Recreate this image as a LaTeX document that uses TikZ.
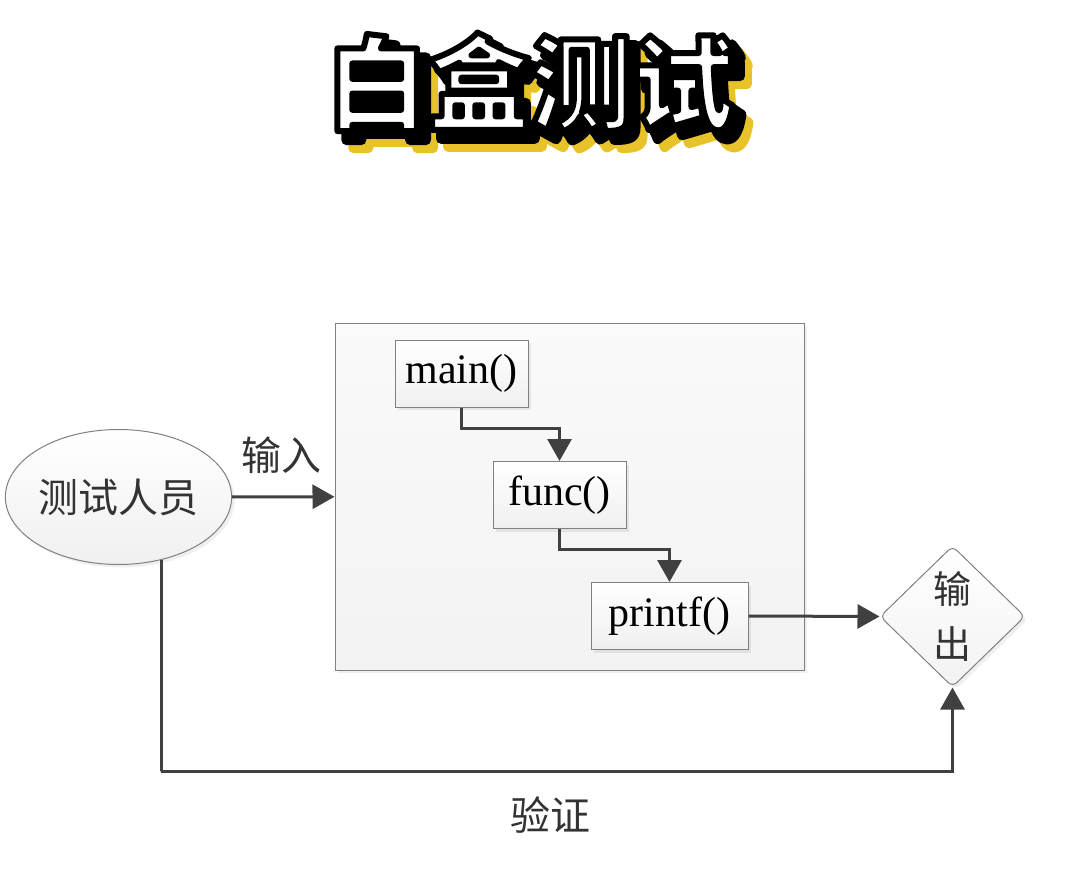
\documentclass[tikz,border=0pt]{standalone}
\usepackage{fontspec}
\setmainfont{Liberation Serif}
\newfontfamily\cjk{Noto Sans CJK SC}
\usetikzlibrary{shapes.geometric,arrows.meta,shadows,calc}
\definecolor{linec}{HTML}{404040}
\definecolor{borderc}{HTML}{808080}
\definecolor{titleyellow}{HTML}{E8C22A}
\tikzset{
  conn/.style={draw=linec, line width=3pt, -{Triangle[length=22pt,width=24pt]}},
  fnbox/.style={draw=borderc, line width=1pt, top color=white, bottom color=gray!12,
    minimum width=133pt, minimum height=67pt, inner sep=0pt,
    font=\fontsize{42}{46}\selectfont, drop shadow={shadow xshift=3pt, shadow yshift=-3pt, opacity=0.15}},
  cjklabel/.style={text=black!80, font=\cjk\fontsize{40}{55}\selectfont},
  titletext/.style={font=\cjk\bfseries\fontsize{102}{102}\selectfont, inner sep=0pt}
}
% stroked text: #1 = stroke colour operator, #2 = line width, #3 = text
\newcommand{\strk}[3]{\special{pdf:code #1 2 Tr #2 w 1 j}#3\special{pdf:code 0 Tr}}
\newcommand{\ttl}{白盒测试}
\begin{document}
\begin{tikzpicture}[x=1pt,y=-1pt]
\useasboundingbox (0,0) rectangle (1090,888);
\fill[white] (0,0) rectangle (1090,888);
% title
\node[titletext, text=titleyellow] (titleshadow) at (546,99) {\strk{0.91 0.76 0.16 RG}{10}{\ttl}};
\node[titletext, text=black] (titledepth) at (539,91) {\strk{0 G}{10}{\ttl}};
\node[titletext, text=white] (title) at (530,82) {\strk{0 G}{6}{\ttl}};
% big box
\node[draw=borderc, line width=1pt, top color=gray!4, bottom color=gray!10,
  minimum width=469pt, minimum height=347pt, inner sep=0pt,
  drop shadow={shadow xshift=3pt, shadow yshift=-3pt, opacity=0.12}] (big) at (569.5,496.5) {};
% ellipse
\node[ellipse, draw=borderc, line width=1pt, top color=white, bottom color=gray!12,
  minimum width=225pt, minimum height=135pt, inner sep=0pt, cjklabel,
  drop shadow={shadow xshift=3pt, shadow yshift=-3pt, opacity=0.12}] (tester) at (118.5,497) {测试人员};
% function boxes
\node[fnbox] (main) at (461.5,373.5) {main()};
\node[fnbox] (func) at (559.5,495) {func()};
\node[fnbox, minimum width=157pt] (printf) at (669.5,616) {printf()};
% diamond
\node[diamond, draw=borderc, line width=1pt, top color=white, bottom color=gray!10,
  minimum width=145pt, minimum height=141pt, inner sep=0pt, rounded corners=6pt,
  drop shadow={shadow xshift=3pt, shadow yshift=-3pt, opacity=0.12}] (out) at (952.5,616.5) {};
\node[cjklabel, align=center, font=\cjk\fontsize{38}{55}\selectfont] (outtext) at (out.center) {输\\出};
% connectors
\draw[conn] (tester) -- (big);
\node[cjklabel] (inlabel) at (281,455) {输入};
\draw[conn] (main.south) -- ++(0,21) -| (func.north);
\draw[conn] (func.south) -- ++(0,20) -| (printf.north);
\draw[conn] (printf.east) -- (out.west);
\coordinate (bl) at (161,771);
\draw[conn] (tester.-56) |- (bl) -| (out.south);
\node[cjklabel] (verify) at (550,815) {验证};
\end{tikzpicture}
\end{document}
